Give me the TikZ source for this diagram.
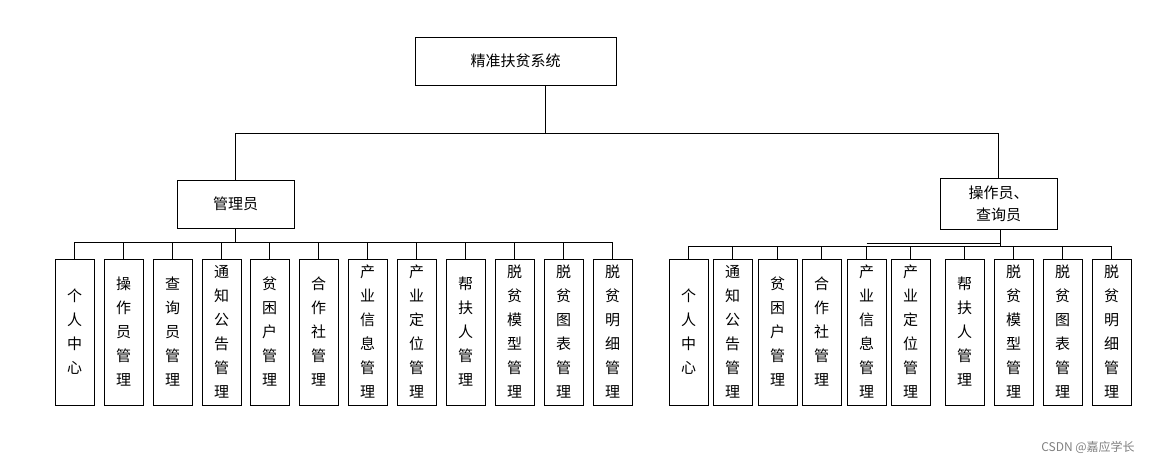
\documentclass[tikz,border=0pt]{standalone}
\usepackage{fontspec}
\setmainfont{Noto Sans CJK SC}
\begin{document}
\begin{tikzpicture}[x=1pt,y=-1pt,
  bx/.style={draw,line width=0.9pt,inner sep=0pt,font=\fontsize{15}{18}\selectfont},
  vb/.style={bx,minimum width=39pt,minimum height=146pt,align=center,font=\fontsize{15}{24}\selectfont},
  ln/.style={line width=0.9pt}]
\useasboundingbox (0,0) rectangle (1158,465);
\node[bx,minimum width=201pt,minimum height=48pt] (top) at (515.5,61) {精准扶贫系统};
\node[bx,minimum width=117pt,minimum height=48pt] (adm) at (235.5,204) {管理员};
\node[bx,minimum width=117pt,minimum height=51pt,align=center,font=\fontsize{15}{22}\selectfont] (op) at (998.5,203.5) {操作员、\\查询员};
\coordinate (tj) at (545,133);
\draw[ln] (top.south -| tj) -- (tj);
\draw[ln] (adm.north) -- (adm.north |- tj) -- (op.north |- tj) -- (op.north);
% left children
\foreach \i/\x/\t in {1/55/个\\人\\中\\心,2/104/操\\作\\员\\管\\理,3/153/查\\询\\员\\管\\理,4/202/通\\知\\公\\告\\管\\理,5/250/贫\\困\\户\\管\\理,6/299/合\\作\\社\\管\\理,7/348/产\\业\\信\\息\\管\\理,8/397/产\\业\\定\\位\\管\\理,9/446/帮\\扶\\人\\管\\理,10/495/脱\\贫\\模\\型\\管\\理,11/544/脱\\贫\\图\\表\\管\\理,12/593/脱\\贫\\明\\细\\管\\理}
  \node[vb] (l\i) at (\x+19.5,332) {\t};
\coordinate (lb) at (0,242);
\draw[ln] (adm.south) -- (adm.south |- lb);
\draw[ln] (l1.north |- lb) -- (l12.north |- lb);
\foreach \i in {1,...,12} \draw[ln] (l\i.north |- lb) -- (l\i.north);
% right children
\foreach \i/\x/\t in {1/669/个\\人\\中\\心,2/713/通\\知\\公\\告\\管\\理,3/758/贫\\困\\户\\管\\理,4/802/合\\作\\社\\管\\理,5/847/产\\业\\信\\息\\管\\理,6/891/产\\业\\定\\位\\管\\理,7/945/帮\\扶\\人\\管\\理,8/994/脱\\贫\\模\\型\\管\\理,9/1043/脱\\贫\\图\\表\\管\\理,10/1092/脱\\贫\\明\\细\\管\\理}
  \node[vb] (r\i) at (\x+19.5,332) {\t};
\coordinate (rb) at (0,246);
\coordinate (rb2) at (0,243);
\coordinate (rx) at (1000,0);
\draw[ln] (op.south -| rx) -- (rx |- rb);
\draw[ln] (r5.north |- rb2) -- (rx |- rb2);
\draw[ln] (r1.north |- rb) -- (r10.north |- rb);
\foreach \i in {1,...,10} \draw[ln] (r\i.north |- rb) -- (r\i.north);
\node[font=\fontsize{12}{14}\selectfont,text=gray] (wm) at (1088,447) {CSDN @嘉应学长};
\end{tikzpicture}
\end{document}
